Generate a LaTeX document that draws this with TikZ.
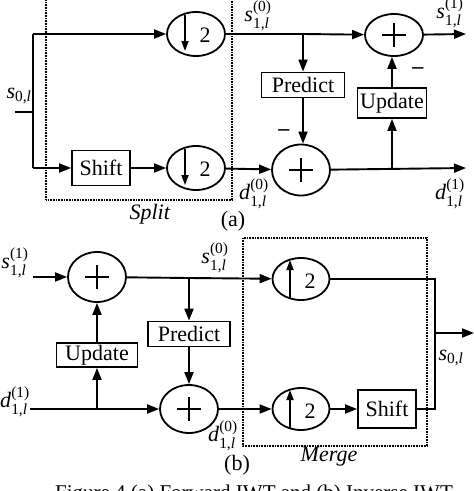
\documentclass[tikz,border=0pt]{standalone}
\usepackage{fontspec}
\usepackage{amsmath}
\setmainfont{Liberation Serif}
\usetikzlibrary{arrows.meta,shapes.geometric,calc}
\newcommand{\sig}[3]{\textit{#1}$^{\text{(#2)}}_{\text{#3,\textit{l}}}$}
\newcommand{\sz}{\textit{s}$_{\text{0,\textit{l}}}$}
\tikzset{
  wire/.style={line width=1.9pt},
  arr/.style={wire,-{Triangle[length=12pt,width=9pt]}},
  inarr/.style={line width=1.7pt,-{Triangle[length=10pt,width=7pt]}},
  oval/.style={draw,line width=1.8pt,ellipse,inner sep=0pt,minimum width=58pt,minimum height=44pt},
  pl/.style={oval,minimum height=49pt},
  plus/.style={line width=2.6pt},
  blk/.style={draw,line width=1.8pt,rectangle,inner sep=2pt},
  dotbox/.style={line width=1.4pt,dash pattern=on 0.9pt off 0.7pt},
  lbl/.style={inner sep=0pt},
}
\begin{document}
\begin{tikzpicture}[x=1pt,y=-1pt,font=\fontsize{22}{26}\selectfont]
\useasboundingbox (0,0) rectangle (474,491);
\clip (0,0) rectangle (474,491);
% ================= (a) =================
\node[oval] (ds1) at (196,34) {};
\node[oval] (ds2) at (196,168) {};
\foreach \n in {ds1,ds2}{
  \draw[inarr] ($(\n)+(-11,-19)$) -- ($(\n)+(-11,17)$);
  \node[lbl] at ($(\n)+(9,1)$) {2};
}
\node[blk,minimum width=58pt,minimum height=35pt] (shA) at (101,168) {Shift};
\coordinate (inA) at (15,112);
\coordinate (jA) at (33,112);
\coordinate (jAt) at (33,34);
\coordinate (jAb) at (33,168);
\node[lbl] (s0a) at (19,96) {\sz};
\draw[wire] (inA) -- (jA);
\draw[wire] (jAt) -- (jAb);
\draw[arr] (jAt) -- (ds1);
\draw[arr] (jAb) -- (shA);
\draw[arr] (shA) -- (ds2);

\node[pl,minimum height=42pt] (plA1) at (394,35) {};
\node[pl,minimum height=51pt] (plA2) at (301,170) {};
\foreach \n in {plA1,plA2}{
  \draw[plus] ($(\n)+(-12,0)$) -- ($(\n)+(12,0)$) ($(\n)+(0,-12)$) -- ($(\n)+(0,12)$);
}
\node[blk,minimum width=83pt,minimum height=25pt] (prA) at (303,85) {Predict};
\node[blk,minimum width=69pt,minimum height=30pt] (upA) at (392,103) {Update};
\coordinate (tpA) at (303,34);
\coordinate (tuA) at (392,168);
\coordinate (oA1) at (466,34);
\coordinate (oA2) at (466,168);
\draw[wire] (ds1) -- (tpA);
\draw[arr] (tpA) -- (plA1);
\draw[arr] (tpA) -- (prA);
\draw[arr] (prA) -- (prA |- plA2.north);
\draw[arr] (ds2) -- (plA2);
\draw[arr] (plA2) -- (oA2);
\draw[arr] (tuA) -- (upA);
\draw[arr] (upA) -- (upA |- plA1.south);
\draw[arr] (plA1) -- (oA1);
\node[lbl] at (284,133) {\textbf{\textendash}};
\node[lbl] at (418,71) {\textbf{\textendash}};
\node[lbl] (lsA0) at (258,16) {\sig{s}{0}{1}};
\node[lbl] (lsA1) at (450,13) {\sig{s}{1}{1}};
\node[lbl] (ldA0) at (254,194) {\sig{d}{0}{1}};
\node[lbl] (ldA1) at (450,194) {\sig{d}{1}{1}};
\draw[dotbox] (46,-6) rectangle (232,200);
\node[lbl] at (150,214) {\textit{Split}};
\node[lbl] at (233,221) {(a)};

% ================= (b) =================
\node[pl,minimum height=50pt] (plB1) at (97,277) {};
\node[pl,minimum height=48pt] (plB2) at (189,409) {};
\foreach \n in {plB1,plB2}{
  \draw[plus] ($(\n)+(-12,0)$) -- ($(\n)+(12,0)$) ($(\n)+(0,-12)$) -- ($(\n)+(0,12)$);
}
\node[blk,minimum width=81pt,minimum height=24pt] (upB) at (97,355) {Update};
\node[blk,minimum width=82pt,minimum height=25pt] (prB) at (189,334) {Predict};
\node[oval,minimum width=57pt,minimum height=42pt] (usB1) at (301,279) {};
\node[oval,minimum width=57pt,minimum height=42pt] (usB2) at (301,409) {};
\foreach \n in {usB1,usB2}{
  \draw[inarr] ($(\n)+(-11,19)$) -- ($(\n)+(-11,-19)$);
  \node[lbl] at ($(\n)+(9,2)$) {2};
}
\node[blk,minimum width=58pt,minimum height=38pt] (shB) at (387,409) {Shift};
\coordinate (inB1) at (33,277);
\coordinate (inB2) at (30,409);
\coordinate (tuB) at (97,409);
\coordinate (tpB) at (189,278);
\coordinate (mT) at (435,279);
\coordinate (mB) at (435,409);
\coordinate (mO) at (435,333);
\coordinate (oB) at (474,333);
\draw[arr] (inB1) -- (plB1);
\draw[wire] (inB2) -- (tuB);
\draw[arr] (tuB) -- (plB2);
\draw[arr] (tuB) -- (upB);
\draw[arr] (upB) -- (plB1);
\draw[wire] (plB1) -- (tpB);
\draw[arr] (tpB) -- (usB1);
\draw[arr] (tpB) -- (prB);
\draw[arr] (prB) -- (plB2);
\draw[arr] (plB2) -- (usB2);
\draw[arr] (usB2) -- (shB);
\draw[wire] (usB1) -- (mT) -- (mB) -- (shB);
\draw[arr] (mO) -- (oB);
\node[lbl] (lsB1) at (15,263) {\sig{s}{1}{1}};
\node[lbl] (ldB1) at (15,402) {\sig{d}{1}{1}};
\node[lbl] (lsB0) at (215,258) {\sig{s}{0}{1}};
\node[lbl] (ldB0) at (223,436) {\sig{d}{0}{1}};
\node[lbl] (s0b) at (451,358) {\sz};
\draw[dotbox] (243,238) rectangle (427,446);
\node[lbl] at (329,457) {\textit{Merge}};
\node[lbl] at (237,465) {(b)};
\node[lbl,anchor=base,font=\fontsize{21}{25}\selectfont] at (254,499) {Figure 4 (a) Forward IWT and (b) Inverse IWT};
\end{tikzpicture}
\end{document}
